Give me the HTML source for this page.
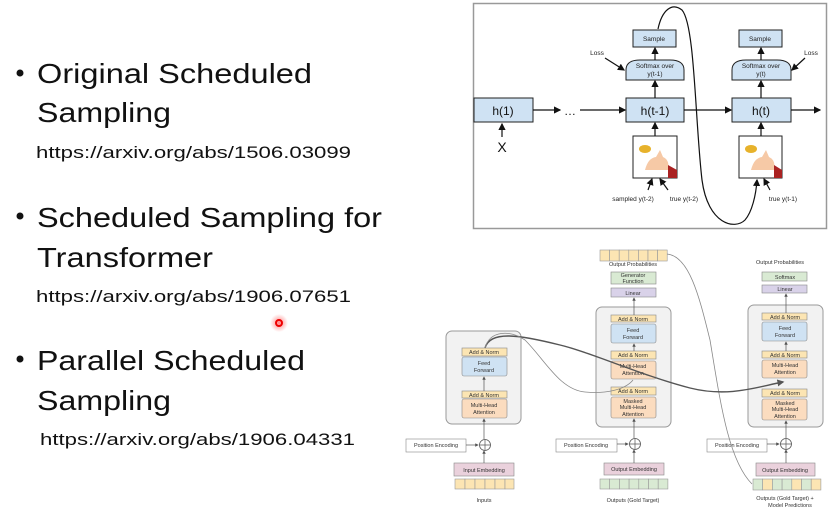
<!DOCTYPE html>
<html><head><style>html,body{margin:0;padding:0;background:#fff;}svg{display:block}</style></head>
<body>
<svg width="835" height="522" viewBox="0 0 835 522" xmlns="http://www.w3.org/2000/svg" font-family="Liberation Sans, sans-serif">
<defs>
<marker id="a" markerWidth="6" markerHeight="6" refX="5" refY="3" orient="auto"><path d="M0,0 L6,3 L0,6z" fill="#111"/></marker>
<marker id="g" markerWidth="5" markerHeight="5" refX="4" refY="2.5" orient="auto"><path d="M0,0 L5,2.5 L0,5z" fill="#555"/></marker>
<radialGradient id="rd"><stop offset="0" stop-color="#f33" stop-opacity=".6"/><stop offset="1" stop-color="#f33" stop-opacity="0"/></radialGradient>
</defs>
<rect width="835" height="522" fill="#fff"/>
<!-- left text -->
<g fill="#111" font-size="28">
<circle cx="20" cy="73" r="3.5"/><circle cx="20" cy="216" r="3.5"/><circle cx="20" cy="359" r="3.5"/>
<text x="37" y="83" textLength="275" lengthAdjust="spacingAndGlyphs">Original Scheduled</text>
<text x="37" y="122" textLength="134" lengthAdjust="spacingAndGlyphs">Sampling</text>
<text x="37" y="227" textLength="345" lengthAdjust="spacingAndGlyphs">Scheduled Sampling for</text>
<text x="37" y="267" textLength="176" lengthAdjust="spacingAndGlyphs">Transformer</text>
<text x="37" y="370" textLength="268" lengthAdjust="spacingAndGlyphs">Parallel Scheduled</text>
<text x="37" y="410" textLength="134" lengthAdjust="spacingAndGlyphs">Sampling</text>
</g>
<g fill="#111" font-size="17">
<text x="36" y="158" textLength="315" lengthAdjust="spacingAndGlyphs">https://arxiv.org/abs/1506.03099</text>
<text x="36" y="302" textLength="315" lengthAdjust="spacingAndGlyphs">https://arxiv.org/abs/1906.07651</text>
<text x="40" y="445" textLength="315" lengthAdjust="spacingAndGlyphs">https://arxiv.org/abs/1906.04331</text>
</g>
<circle cx="279" cy="323" r="9" fill="url(#rd)"/><circle cx="279" cy="323" r="3" fill="none" stroke="#e00" stroke-width="2"/>

<!-- top diagram -->
<rect x="473.5" y="3.5" width="353" height="225" fill="#fff" stroke="#999" stroke-width="1.5"/>
<g stroke="#222" stroke-width="1" fill="#cfe2f3">
<rect x="474" y="98" width="59" height="24"/>
<rect x="626" y="98" width="58" height="24"/>
<rect x="732" y="98" width="59" height="24"/>
<rect x="633" y="30" width="43" height="17"/>
<rect x="739" y="30" width="43" height="17"/>
<path d="M626,80 L626,70 Q626,60 640,60 L670,60 Q684,60 684,70 L684,80z"/>
<path d="M732,80 L732,70 Q732,60 746,60 L777,60 Q791,60 791,70 L791,80z"/>
<rect x="633" y="136" width="44" height="42" fill="#fff"/>
<rect x="739" y="136" width="43" height="42" fill="#fff"/>
</g>
<g font-size="12" fill="#111" text-anchor="middle"><text x="503" y="115">h(1)</text><text x="655" y="115">h(t-1)</text><text x="761" y="115">h(t)</text></g>
<g font-size="6.5" fill="#222" text-anchor="middle">
<text x="654" y="41">Sample</text><text x="760" y="41">Sample</text>
<text x="655" y="68">Softmax over</text><text x="655" y="76">y(t-1)</text>
<text x="761" y="68">Softmax over</text><text x="761" y="76">y(t)</text>
<text x="597" y="55">Loss</text><text x="811" y="55">Loss</text>
<text x="633" y="201">sampled y(t-2)</text><text x="684" y="201">true y(t-2)</text><text x="783" y="201">true y(t-1)</text>
</g>
<text x="502" y="152" font-size="14" text-anchor="middle" fill="#111">X</text>
<text x="570" y="115" font-size="12" text-anchor="middle" fill="#111">…</text>
<g stroke="#111" stroke-width="1.2" fill="none" marker-end="url(#a)">
<line x1="533" y1="110" x2="560" y2="110"/><line x1="580" y1="110" x2="625" y2="110"/>
<line x1="684" y1="110" x2="731" y2="110"/><line x1="791" y1="110" x2="820" y2="110"/>
<line x1="502" y1="137" x2="502" y2="124"/>
<line x1="655" y1="98" x2="655" y2="81"/><line x1="655" y1="60" x2="655" y2="48"/>
<line x1="761" y1="98" x2="761" y2="81"/><line x1="761" y1="60" x2="761" y2="48"/>
<line x1="655" y1="136" x2="655" y2="123"/><line x1="761" y1="136" x2="761" y2="123"/>
<line x1="605" y1="58" x2="624" y2="70"/><line x1="805" y1="58" x2="792" y2="70"/>
<line x1="648" y1="190" x2="652" y2="179"/><line x1="668" y1="190" x2="660" y2="179"/><line x1="770" y1="190" x2="764" y2="179"/>
<path d="M658,29 C662,10 672,2 682,10 C695,25 695,120 702,180 C708,225 735,230 745,220 C752,212 756,195 757,180"/>
</g>
<!-- hand icons -->
<g><ellipse cx="645" cy="149" rx="6" ry="4" fill="#e7b22b"/><path d="M645,170 Q648,158 656,157 L660,150 L663,157 Q670,160 668,170z" fill="#f6c9a6"/><path d="M668,165 L677,170 L677,178 L668,178z" fill="#a22"/>
<ellipse cx="751" cy="149" rx="6" ry="4" fill="#e7b22b"/><path d="M751,170 Q754,158 762,157 L766,150 L769,157 Q776,160 774,170z" fill="#f6c9a6"/><path d="M774,165 L782,170 L782,178 L774,178z" fill="#a22"/></g>

<!-- bottom diagram -->
<g stroke="#999" stroke-width="1" fill="#f2f2f2">
<rect x="446" y="331" width="75" height="93" rx="6"/>
<rect x="596" y="307" width="75" height="120" rx="6"/>
<rect x="748" y="305" width="75" height="122" rx="6"/>
</g>
<g stroke="#888" stroke-width=".6" font-size="5.5" text-anchor="middle">
<!-- encoder -->
<rect x="462" y="348" width="45" height="8" fill="#fce5b3"/>
<rect x="462" y="357" width="45" height="19" rx="2" fill="#cfe2f3"/>
<rect x="462" y="391" width="45" height="7" fill="#fce5b3"/>
<rect x="462" y="399" width="45" height="19" rx="2" fill="#fbdcbf"/>
<!-- mid -->
<rect x="611" y="315" width="45" height="7" fill="#fce5b3"/>
<rect x="611" y="324" width="45" height="19" rx="2" fill="#cfe2f3"/>
<rect x="611" y="351" width="45" height="8" fill="#fce5b3"/>
<rect x="611" y="361" width="45" height="18" rx="2" fill="#fbdcbf"/>
<rect x="611" y="387" width="45" height="8" fill="#fce5b3"/>
<rect x="611" y="397" width="45" height="21" rx="2" fill="#fbdcbf"/>
<rect x="611" y="288" width="45" height="9" fill="#d9d2e9"/>
<rect x="611" y="272" width="45" height="12" fill="#d9ead3"/>
<!-- right -->
<rect x="762" y="313" width="45" height="7" fill="#fce5b3"/>
<rect x="762" y="322" width="45" height="19" rx="2" fill="#cfe2f3"/>
<rect x="762" y="351" width="45" height="7" fill="#fce5b3"/>
<rect x="762" y="360" width="45" height="18" rx="2" fill="#fbdcbf"/>
<rect x="762" y="389" width="45" height="8" fill="#fce5b3"/>
<rect x="762" y="399" width="45" height="21" rx="2" fill="#fbdcbf"/>
<rect x="762" y="285" width="45" height="8" fill="#d9d2e9"/>
<rect x="762" y="272" width="45" height="9" fill="#d9ead3"/>
<!-- pos enc / embeddings -->
<rect x="406" y="439" width="60" height="13" fill="#fff"/>
<rect x="556" y="439" width="61" height="13" fill="#fff"/>
<rect x="707" y="439" width="60" height="13" fill="#fff"/>
<rect x="454" y="463" width="60" height="13" fill="#ead1dc"/>
<rect x="604" y="463" width="60" height="12" fill="#ead1dc"/>
<rect x="756" y="463" width="59" height="13" fill="#ead1dc"/>
</g>
<g fill="#333" font-size="5.5" text-anchor="middle">
<text x="484" y="354">Add &amp; Norm</text><text x="484" y="365">Feed</text><text x="484" y="372">Forward</text>
<text x="484" y="397">Add &amp; Norm</text><text x="484" y="407">Multi-Head</text><text x="484" y="414">Attention</text>
<text x="633" y="321">Add &amp; Norm</text><text x="633" y="332">Feed</text><text x="633" y="339">Forward</text>
<text x="633" y="357">Add &amp; Norm</text><text x="633" y="368">Multi-Head</text><text x="633" y="375">Attention</text>
<text x="633" y="393">Add &amp; Norm</text><text x="633" y="403">Masked</text><text x="633" y="409">Multi-Head</text><text x="633" y="416">Attention</text>
<text x="633" y="295">Linear</text><text x="633" y="277">Generator</text><text x="633" y="283">Function</text>
<text x="633" y="266">Output Probabilities</text>
<text x="785" y="319">Add &amp; Norm</text><text x="785" y="330">Feed</text><text x="785" y="337">Forward</text>
<text x="785" y="357">Add &amp; Norm</text><text x="785" y="367">Multi-Head</text><text x="785" y="374">Attention</text>
<text x="785" y="395">Add &amp; Norm</text><text x="785" y="405">Masked</text><text x="785" y="411">Multi-Head</text><text x="785" y="418">Attention</text>
<text x="785" y="291">Linear</text><text x="785" y="279">Softmax</text>
<text x="780" y="264">Output Probabilities</text>
<text x="436" y="447">Position Encoding</text><text x="586" y="447">Position Encoding</text><text x="737" y="447">Position Encoding</text>
<text x="484" y="472">Input Embedding</text><text x="634" y="471">Output Embedding</text><text x="785" y="472">Output Embedding</text>
<text x="484" y="502">Inputs</text><text x="633" y="502">Outputs (Gold Target)</text>
<text x="785" y="500">Outputs (Gold Target) +</text><text x="790" y="507">Model Predictions</text>
</g>
<!-- token rows -->
<g stroke="#999" stroke-width=".6">
<rect x="455" y="479" width="10" height="10" fill="#fce5b3"/><rect x="465" y="479" width="10" height="10" fill="#fce5b3"/><rect x="475" y="479" width="10" height="10" fill="#fce5b3"/><rect x="485" y="479" width="10" height="10" fill="#fce5b3"/><rect x="495" y="479" width="10" height="10" fill="#fce5b3"/><rect x="505" y="479" width="9" height="10" fill="#fce5b3"/>
<rect x="600" y="479" width="9.7" height="10" fill="#d9ead3"/><rect x="609.7" y="479" width="9.7" height="10" fill="#d9ead3"/><rect x="619.4" y="479" width="9.7" height="10" fill="#d9ead3"/><rect x="629.1" y="479" width="9.7" height="10" fill="#d9ead3"/><rect x="638.8" y="479" width="9.7" height="10" fill="#d9ead3"/><rect x="648.5" y="479" width="9.7" height="10" fill="#d9ead3"/><rect x="658.2" y="479" width="9.7" height="10" fill="#d9ead3"/>
<rect x="600" y="250" width="9.6" height="11" fill="#fce5b3"/><rect x="609.6" y="250" width="9.6" height="11" fill="#fce5b3"/><rect x="619.2" y="250" width="9.6" height="11" fill="#fce5b3"/><rect x="628.8" y="250" width="9.6" height="11" fill="#fce5b3"/><rect x="638.4" y="250" width="9.6" height="11" fill="#fce5b3"/><rect x="648" y="250" width="9.6" height="11" fill="#fce5b3"/><rect x="657.6" y="250" width="9.6" height="11" fill="#fce5b3"/>
<rect x="753" y="479" width="9.7" height="11" fill="#d9ead3"/><rect x="762.7" y="479" width="9.7" height="11" fill="#fce5b3"/><rect x="772.4" y="479" width="9.7" height="11" fill="#d9ead3"/><rect x="782.1" y="479" width="9.7" height="11" fill="#d9ead3"/><rect x="791.8" y="479" width="9.7" height="11" fill="#fce5b3"/><rect x="801.5" y="479" width="9.7" height="11" fill="#d9ead3"/><rect x="811.2" y="479" width="9.7" height="11" fill="#fce5b3"/>
</g>
<!-- circles + arrows -->
<g stroke="#555" stroke-width=".8" fill="#fff">
<circle cx="485" cy="445" r="5.5"/><circle cx="635" cy="444" r="5.5"/><circle cx="786" cy="444" r="5.5"/>
</g>
<g stroke="#555" stroke-width=".7"><path d="M479.5,445h11M485,439.5v11M629.5,444h11M635,438.5v11M780.5,444h11M786,438.5v11"/></g>
<g stroke="#555" stroke-width=".7" fill="none" marker-end="url(#g)">
<line x1="484" y1="463" x2="484" y2="451"/><line x1="484" y1="439" x2="484" y2="419"/><line x1="484" y1="391" x2="484" y2="377"/>
<line x1="466" y1="445" x2="478" y2="445"/><line x1="617" y1="444" x2="628" y2="444"/><line x1="767" y1="444" x2="779" y2="444"/>
<line x1="634" y1="463" x2="634" y2="450"/><line x1="634" y1="438" x2="634" y2="419"/><line x1="634" y1="351" x2="634" y2="344"/><line x1="634" y1="315" x2="634" y2="298"/>
<line x1="786" y1="463" x2="786" y2="450"/><line x1="786" y1="438" x2="786" y2="421"/><line x1="786" y1="351" x2="786" y2="342"/><line x1="786" y1="313" x2="786" y2="294"/>
</g>
<path d="M667,254 C690,256 700,300 710,340 C720,400 728,460 752,484" stroke="#888" stroke-width=".8" fill="none"/>
<path d="M485,348 C490,330 520,335 560,345 C590,352 640,375 690,388 C730,398 760,386 783,382" stroke="#555" stroke-width="1.4" fill="none" marker-end="url(#g)"/>
<path d="M485,348 C490,330 510,330 525,340 C545,360 560,390 585,392 C605,394 625,390 633,380" stroke="#888" stroke-width=".8" fill="none"/>
</svg>
</body></html>
